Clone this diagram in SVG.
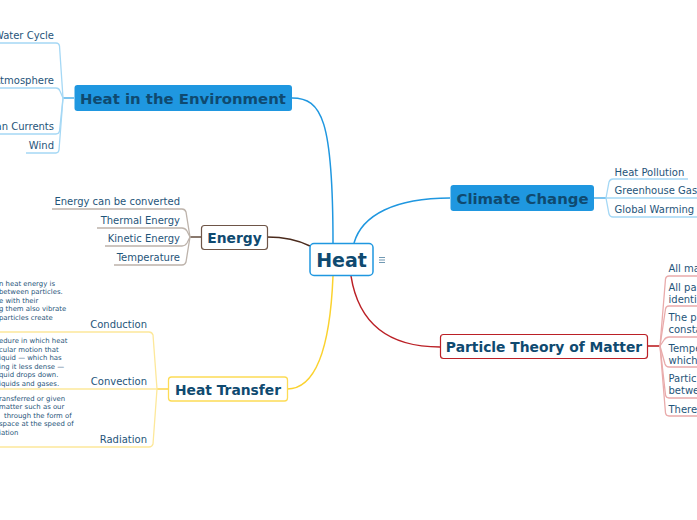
<svg xmlns="http://www.w3.org/2000/svg" width="697" height="520" viewBox="0 0 697 520">
<style>
text{font-family:"DejaVu Sans",Verdana,sans-serif;fill:#0f4a70}
.t{font-size:10px;fill:#1f557a}
.s{font-size:6.9px;fill:#1f557a}
.m{font-size:14.9px;font-weight:700}
.n{font-size:13.85px;font-weight:700}
.b{fill:none;stroke-width:1.5}
.c{fill:none;stroke-width:1.3}
.st{fill:none;stroke-width:1.8}
.blue{stroke:#a5d8f5}.brown{stroke:#bdb3ab}.yellow{stroke:#fde89a}.red{stroke:#e9abab}
</style>
<rect width="697" height="520" fill="#fff"/>
<g id="connectors">
<path class="b" stroke="#1f97e0" d="M292 98C322 98 333 120 333 243"/>
<path class="b" stroke="#1f97e0" d="M354 243C362 215 395 198 450 198"/>
<path class="b" stroke="#bb2026" d="M351 276C358 320 385 347 440 347"/>
<path class="b" stroke="#4a2a1c" d="M267 237C285 237 298 240 310 246"/>
<path class="b" stroke="#fbd22e" d="M287 389C315 389 330 350 333 276"/>
<path class="st" stroke="#6fbfee" d="M74 98H63"/>
<path class="c blue" d="M0 43H56Q59 43 59.500 46L63 98"/>
<path class="c blue" d="M0 88H56Q59 88 60 91L63 98"/>
<path class="c blue" d="M0 134H56Q59 134 59.500 131L63 98"/>
<path class="c blue" d="M26 153H56Q58.500 153 59 150L63 98"/>
<path class="st" stroke="#7d6a5e" d="M201 237H190"/>
<path class="c brown" d="M52 209H182Q185 209 186 212L190 237"/>
<path class="c brown" d="M97 228H182Q185 228 187 231L190 237"/>
<path class="c brown" d="M105 246H182Q185 246 187 243L190 237"/>
<path class="c brown" d="M114 265H182Q185 265 186 262L190 237"/>
<path class="st" stroke="#fddc66" d="M168 389H157"/>
<path class="c yellow" d="M0 332H149Q152 332 153 335L157 389"/>
<path class="c yellow" d="M0 389H157"/>
<path class="c yellow" d="M0 447H149Q152 447 153 444L157 389"/>
<path class="st" stroke="#6fbfee" d="M594 198H606"/>
<path class="c blue" d="M688 179H613Q610 179 609 182L606 198"/>
<path class="c blue" d="M697 198H606"/>
<path class="c blue" d="M697 217H613Q610 217 609 214L606 198"/>
<path class="st" stroke="#c5383c" d="M647 346H660"/>
<path class="c red" d="M697 276H669Q666 276 665.500 279L660 346"/>
<path class="c red" d="M697 306H669Q666 306 665.500 309L660 346"/>
<path class="c red" d="M697 337H669Q666 337 664 340L660 346"/>
<path class="c red" d="M697 367H669Q666 367 665 364L660 346"/>
<path class="c red" d="M697 398H669Q666 398 665.500 395L660 346"/>
<path class="c red" d="M697 416H669Q666 416 665.500 413L660 346"/>
</g>
<g id="heat"><rect x="310" y="243.500" width="63" height="32" rx="4" fill="#fff" stroke="#1f97e0" stroke-width="1.500"/><text x="341.500" y="267" text-anchor="middle" style="font-size:19px;font-weight:700">Heat</text>
<path d="M379 257.500h6M379 260h6M379 262.500h6" stroke="#4d7f9f" stroke-width="0.800" fill="none"/></g>
<g id="env"><rect x="74.500" y="85" width="217.500" height="26" rx="3" fill="#1f97e0"/><text class="m" x="183" y="103.500" text-anchor="middle">Heat in the Environment</text></g>
<g id="climate"><rect x="450.500" y="185" width="143.500" height="26" rx="3" fill="#1f97e0"/><text class="m" x="522.500" y="204" text-anchor="middle">Climate Change</text></g>
<g id="particle"><rect x="440.500" y="334.500" width="207" height="24" rx="3" fill="#fff" stroke="#bb2026" stroke-width="1.200"/><text class="n" x="544" y="352" text-anchor="middle">Particle Theory of Matter</text></g>
<g id="energy"><rect x="201.500" y="225.500" width="66" height="24" rx="3" fill="#fff" stroke="#6e5547" stroke-width="1.200"/><text class="n" x="234.500" y="243" text-anchor="middle">Energy</text></g>
<g id="transfer"><rect x="168.500" y="377" width="119" height="24" rx="3" fill="#fff" stroke="#fddc55" stroke-width="1.300"/><text class="n" x="228" y="395" text-anchor="middle">Heat Transfer</text></g>
<g id="env-items" text-anchor="end">
<text class="t" x="54" y="39">Water Cycle</text>
<text class="t" x="54" y="84">Atmosphere</text>
<text class="t" x="54" y="130">Ocean Currents</text>
<text class="t" x="54" y="149">Wind</text>
</g>
<g id="energy-items" text-anchor="end">
<text class="t" x="180" y="205">Energy can be converted</text>
<text class="t" x="180" y="224">Thermal Energy</text>
<text class="t" x="180" y="242">Kinetic Energy</text>
<text class="t" x="180" y="261">Temperature</text>
</g>
<g id="transfer-items" text-anchor="end">
<text class="t" x="147" y="328">Conduction</text>
<text class="t" x="147" y="385">Convection</text>
<text class="t" x="147" y="443">Radiation</text>
</g>
<g id="transfer-notes">
<text class="s" x="-1" y="286">n heat energy is</text>
<text class="s" x="-1" y="294">between particles.</text>
<text class="s" x="-1" y="303">e with their</text>
<text class="s" x="-1" y="311">g them also vibrate</text>
<text class="s" x="-1" y="320">particles create</text>
<text class="s" x="-1" y="343">edure in which heat</text>
<text class="s" x="-1" y="352">cular motion that</text>
<text class="s" x="-1" y="360">iquid — which has</text>
<text class="s" x="-1" y="369">ing it less dense —</text>
<text class="s" x="-1" y="377">quid drops down.</text>
<text class="s" x="-1" y="386">iquids and gases.</text>
<text class="s" x="-1" y="401">ransferred or given</text>
<text class="s" x="-1" y="409">matter such as our</text>
<text class="s" x="4" y="418">through the form of</text>
<text class="s" x="-1" y="426">space at the speed of</text>
<text class="s" x="-1" y="435">iation</text>
</g>
<g id="climate-items">
<text class="t" x="614.500" y="176">Heat Pollution</text>
<text class="t" x="614.500" y="194">Greenhouse Gas</text>
<text class="t" x="614.500" y="213">Global Warming</text>
</g>
<g id="particle-items">
<text class="t" x="668.500" y="272">All ma</text>
<text class="t" x="668.500" y="291">All pa</text>
<text class="t" x="668.500" y="303">identi</text>
<text class="t" x="668.500" y="321">The p</text>
<text class="t" x="668.500" y="333">consta</text>
<text class="t" x="668.500" y="352">Tempe</text>
<text class="t" x="668.500" y="364">which</text>
<text class="t" x="668.500" y="382">Partic</text>
<text class="t" x="668.500" y="394">betwe</text>
<text class="t" x="668.500" y="413">There</text>
</g>
</svg>
